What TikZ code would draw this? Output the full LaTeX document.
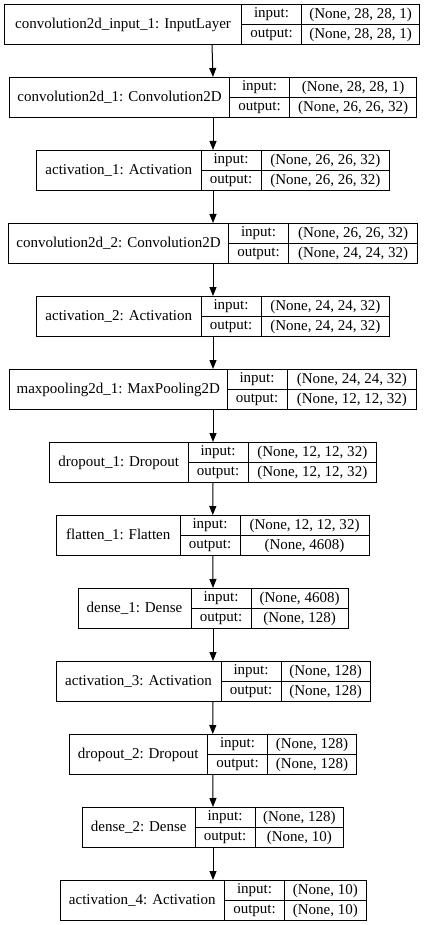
\documentclass[tikz,border=0pt]{standalone}
\usepackage{fontspec}
\setmainfont{Liberation Serif}
\usetikzlibrary{arrows.meta}

\begin{document}
\begin{tikzpicture}[x=1pt, y=-1pt, line width=1pt,
    cell/.style={draw, rectangle, inner sep=0pt, anchor=north west, font=\fontsize{15}{15}\selectfont},
    layerbox/.style={rectangle, inner sep=0pt, minimum height=40pt, anchor=north west},
    flow/.style={-{Triangle[length=9pt, width=7pt]}}]
    % Canvas
    \useasboundingbox (0,0) rectangle (425,925);

    % Layers: number/name/left/split/right/input/output
    \foreach \i/\lname/\xl/\xa/\xr/\vin/\vout in {
        1/{convolution2d\_input\_1: InputLayer}/4/241/419/{(None, 28, 28, 1)}/{(None, 28, 28, 1)},
        2/{convolution2d\_1: Convolution2D}/9/229/416/{(None, 28, 28, 1)}/{(None, 26, 26, 32)},
        3/{activation\_1: Activation}/36/200.5/389/{(None, 26, 26, 32)}/{(None, 26, 26, 32)},
        4/{convolution2d\_2: Convolution2D}/8/228/417/{(None, 26, 26, 32)}/{(None, 24, 24, 32)},
        5/{activation\_2: Activation}/36/200.5/389/{(None, 24, 24, 32)}/{(None, 24, 24, 32)},
        6/{maxpooling2d\_1: MaxPooling2D}/9/226.5/416/{(None, 24, 24, 32)}/{(None, 12, 12, 32)},
        7/{dropout\_1: Dropout}/49/187.5/376/{(None, 12, 12, 32)}/{(None, 12, 12, 32)},
        8/{flatten\_1: Flatten}/56/179.5/368.5/{(None, 12, 12, 32)}/{(None, 4608)},
        9/{dense\_1: Dense}/77.5/190.5/347.5/{(None, 4608)}/{(None, 128)},
        10/{activation\_3: Activation}/55.5/220.5/369.5/{(None, 128)}/{(None, 128)},
        11/{dropout\_2: Dropout}/68.5/207/356/{(None, 128)}/{(None, 128)},
        12/{dense\_2: Dense}/82/194.5/343/{(None, 128)}/{(None, 10)},
        13/{activation\_4: Activation}/59.5/224/365.5/{(None, 10)}/{(None, 10)}
    } {
        \pgfmathsetmacro{\yt}{4+73*(\i-1)}
        \node[layerbox, minimum width=\xr-\xl] (layer\i) at (\xl,\yt) {};
        \node[cell, minimum width=\xa-\xl, minimum height=40] (name\i) at (\xl,\yt) {\lname};
        \node[cell, minimum width=60, minimum height=20] (inkey\i) at (\xa,\yt) {input:};
        \node[cell, minimum width=60, minimum height=20] (outkey\i) at (\xa,\yt+20) {output:};
        \node[cell, minimum width=\xr-\xa-60, minimum height=20] (inval\i) at (\xa+60,\yt) {\vin};
        \node[cell, minimum width=\xr-\xa-60, minimum height=20] (outval\i) at (\xa+60,\yt+20) {\vout};
    }

    % Connections
    \foreach \i [count=\j from 2] in {1,...,12} {
        \draw[flow] (layer\i.south) -- (layer\j.north);
    }
\end{tikzpicture}
\end{document}
